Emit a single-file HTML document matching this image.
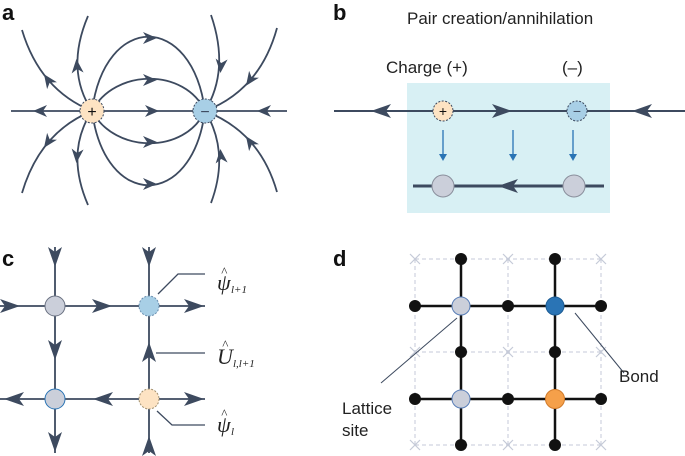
<!DOCTYPE html>
<html><head><meta charset="utf-8"><style>
html,body{margin:0;padding:0;background:#fff;}
svg{display:block;font-family:"Liberation Sans",sans-serif;}
</style></head><body>
<svg width="685" height="456" viewBox="0 0 685 456" xmlns="http://www.w3.org/2000/svg">
<defs>
<path id="ah" d="M10,0 L-10,-7 L-5,0 L-10,7 Z" fill="#3d4a5f"/>
<path id="as" d="M7,0 L-7,-6 L-3,0 L-7,6 Z" fill="#3d4a5f"/>
</defs>
<!-- Panel a -->
<text x="2" y="20" font-size="22" font-weight="bold" fill="#111">a</text>
<g fill="none" stroke="#3d4a5f" stroke-width="1.8">
<line x1="11" y1="111" x2="287" y2="111"/>
<path d="M92,111 C105,12 192,12 205,111"/>
<path d="M92,111 C115,68 185,68 205,111"/>
<path d="M92,111 C115,154 185,154 205,111"/>
<path d="M92,111 C105,210 192,210 205,111"/>
<path d="M92,111 Q40,90 22,30"/>
<path d="M92,111 Q65,70 88,16"/>
<path d="M92,111 Q40,132 22,193"/>
<path d="M92,111 Q65,152 88,205"/>
<path d="M205,111 Q230,70 211,15"/>
<path d="M205,111 Q260,90 277,28"/>
<path d="M205,111 Q230,152 211,203"/>
<path d="M205,111 Q260,132 277,192"/>
</g>
<use href="#as" transform="translate(40,111) rotate(180)"/>
<use href="#as" transform="translate(152,111)"/>
<use href="#as" transform="translate(264,111) rotate(180)"/>
<use href="#as" transform="translate(150,38)"/>
<use href="#as" transform="translate(150,80)"/>
<use href="#as" transform="translate(150,142)"/>
<use href="#as" transform="translate(150,184)"/>
<use href="#as" transform="translate(48,80) rotate(-125)"/>
<use href="#as" transform="translate(77,66) rotate(-95)"/>
<use href="#as" transform="translate(48,142) rotate(125)"/>
<use href="#as" transform="translate(77,156) rotate(95)"/>
<use href="#as" transform="translate(221,66) rotate(95)"/>
<use href="#as" transform="translate(250,80) rotate(125)"/>
<use href="#as" transform="translate(221,156) rotate(-95)"/>
<use href="#as" transform="translate(250,142) rotate(-125)"/>
<circle cx="92" cy="111" r="12" fill="#fde3c3" stroke="#3d4a5f" stroke-width="1" stroke-dasharray="2,1.5"/>
<circle cx="205" cy="111" r="12" fill="#a8cfe6" stroke="#3d4a5f" stroke-width="1" stroke-dasharray="2,1.5"/>
<text x="92" y="117" font-size="16" text-anchor="middle" fill="#111">+</text>
<text x="205" y="117" font-size="16" text-anchor="middle" fill="#3d4a5f">−</text>

<!-- Panel b -->
<text x="333" y="20" font-size="22" font-weight="bold" fill="#111">b</text>
<text x="407" y="24" font-size="17" fill="#222">Pair creation/annihilation</text>
<text x="386" y="73" font-size="17" fill="#222">Charge (+)</text>
<text x="562" y="73" font-size="17" fill="#222">(–)</text>
<rect x="407" y="83" width="203" height="130" fill="#d8f0f4"/>
<line x1="334" y1="111" x2="685" y2="111" stroke="#3d4a5f" stroke-width="2"/>
<use href="#ah" transform="translate(381,111) rotate(180)"/>
<use href="#ah" transform="translate(502,111)"/>
<use href="#ah" transform="translate(642,111) rotate(180)"/>
<circle cx="443" cy="111" r="10" fill="#fde3c3" stroke="#3d4a5f" stroke-width="1" stroke-dasharray="2,1.5"/>
<circle cx="577" cy="111" r="10" fill="#a8cfe6" stroke="#3d4a5f" stroke-width="1" stroke-dasharray="2,1.5"/>
<text x="443" y="116" font-size="14" text-anchor="middle" fill="#111">+</text>
<text x="577" y="116" font-size="14" text-anchor="middle" fill="#3d4a5f">−</text>
<g stroke="#2a74b5" stroke-width="1.3">
<line x1="443" y1="130" x2="443" y2="156"/><line x1="513" y1="130" x2="513" y2="156"/><line x1="573" y1="130" x2="573" y2="156"/>
</g>
<g fill="#2a74b5">
<path d="M439,154 L447,154 L443,161 Z"/><path d="M509,154 L517,154 L513,161 Z"/><path d="M569,154 L577,154 L573,161 Z"/>
</g>
<line x1="413" y1="186" x2="604" y2="186" stroke="#3d4a5f" stroke-width="3"/>
<use href="#ah" transform="translate(508,186) rotate(180)"/>
<circle cx="443" cy="186" r="11" fill="#cbcfda" stroke="#8a8f9c" stroke-width="1"/>
<circle cx="574" cy="186" r="11" fill="#cbcfda" stroke="#8a8f9c" stroke-width="1"/>

<!-- Panel c -->
<text x="2" y="266" font-size="22" font-weight="bold" fill="#111">c</text>
<g stroke="#3d4a5f" stroke-width="1.8" fill="none">
<line x1="0" y1="306" x2="205" y2="306"/>
<line x1="0" y1="399" x2="205" y2="399"/>
<line x1="55" y1="247" x2="55" y2="453"/>
<line x1="149" y1="247" x2="149" y2="453"/>
</g>
<use href="#ah" transform="translate(10,306)"/>
<use href="#ah" transform="translate(102,306)"/>
<use href="#ah" transform="translate(194,306)"/>
<use href="#ah" transform="translate(14,399) rotate(180)"/>
<use href="#ah" transform="translate(103,399) rotate(180)"/>
<use href="#ah" transform="translate(194,399)"/>
<use href="#ah" transform="translate(55,257) rotate(90)"/>
<use href="#ah" transform="translate(55,350) rotate(90)"/>
<use href="#ah" transform="translate(55,442) rotate(90)"/>
<use href="#ah" transform="translate(149,257) rotate(90)"/>
<use href="#ah" transform="translate(149,352) rotate(-90)"/>
<use href="#ah" transform="translate(149,446) rotate(-90)"/>
<circle cx="55" cy="306" r="10" fill="#cbcfda" stroke="#6b7282" stroke-width="1"/>
<circle cx="149" cy="306" r="10" fill="#a8cfe6" stroke="#6b8fb0" stroke-width="1" stroke-dasharray="2,1.5"/>
<circle cx="55" cy="399" r="10" fill="#cbcfda" stroke="#2a74b5" stroke-width="1"/>
<circle cx="149" cy="399" r="10" fill="#fde3c3" stroke="#a09070" stroke-width="1" stroke-dasharray="2,1.5"/>
<g stroke="#3d4a5f" stroke-width="1.3" fill="none">
<polyline points="158,294 178,274 205,274"/>
<line x1="156" y1="353" x2="205" y2="353"/>
<polyline points="157,411 172,425 205,425"/>
</g>
<g font-family="Liberation Serif,serif" font-style="italic" fill="#222">
<text x="217" y="290" font-size="22">ψ</text><text x="221" y="276" font-size="13">^</text><text x="231" y="293" font-size="11">l+1</text>
<text x="217" y="364" font-size="22">U</text><text x="222" y="349" font-size="13">^</text><text x="233" y="367" font-size="11">l,l+1</text>
<text x="217" y="432" font-size="22">ψ</text><text x="221" y="418" font-size="13">^</text><text x="231" y="435" font-size="11">l</text>
</g>

<!-- Panel d -->
<text x="333" y="266" font-size="22" font-weight="bold" fill="#111">d</text>
<g stroke="#c5cad8" stroke-width="1" stroke-dasharray="4,3" fill="none">
<line x1="415" y1="259" x2="601" y2="259"/><line x1="415" y1="352" x2="601" y2="352"/><line x1="415" y1="445" x2="601" y2="445"/>
<line x1="415" y1="259" x2="415" y2="445"/><line x1="508" y1="259" x2="508" y2="445"/><line x1="601" y1="259" x2="601" y2="445"/>
</g>
<g stroke="#c5cad8" stroke-width="1.2">
<path d="M410,254 l10,10 M420,254 l-10,10 M503,254 l10,10 M513,254 l-10,10 M596,254 l10,10 M606,254 l-10,10"/>
<path d="M410,347 l10,10 M420,347 l-10,10 M503,347 l10,10 M513,347 l-10,10 M596,347 l10,10 M606,347 l-10,10"/>
<path d="M410,440 l10,10 M420,440 l-10,10 M503,440 l10,10 M513,440 l-10,10 M596,440 l10,10 M606,440 l-10,10"/>
</g>
<g stroke="#111" stroke-width="2.5">
<line x1="415" y1="306" x2="601" y2="306"/><line x1="415" y1="399" x2="601" y2="399"/>
<line x1="461" y1="259" x2="461" y2="445"/><line x1="555" y1="259" x2="555" y2="445"/>
</g>
<g fill="#111">
<circle cx="461" cy="259" r="6"/><circle cx="555" cy="259" r="6"/>
<circle cx="415" cy="306" r="6"/><circle cx="508" cy="306" r="6"/><circle cx="601" cy="306" r="6"/>
<circle cx="461" cy="352" r="6"/><circle cx="555" cy="352" r="6"/>
<circle cx="415" cy="399" r="6"/><circle cx="508" cy="399" r="6"/><circle cx="601" cy="399" r="6"/>
<circle cx="461" cy="445" r="6"/><circle cx="555" cy="445" r="6"/>
</g>
<circle cx="461" cy="306" r="9" fill="#cbcfda" stroke="#5a7fb8" stroke-width="1"/>
<circle cx="555" cy="306" r="9" fill="#2a74b5" stroke="#1f5e95" stroke-width="1"/>
<circle cx="461" cy="399" r="9" fill="#cbcfda" stroke="#5a7fb8" stroke-width="1"/>
<circle cx="555" cy="399" r="9.5" fill="#f5a04a" stroke="#d07a2a" stroke-width="1"/>
<g stroke="#3d4a5f" stroke-width="1">
<line x1="575" y1="313" x2="624" y2="373"/>
<line x1="457" y1="318" x2="381" y2="383"/>
</g>
<text x="619" y="382" font-size="17" fill="#222">Bond</text>
<text x="342" y="414" font-size="17" fill="#222">Lattice</text>
<text x="342" y="436" font-size="17" fill="#222">site</text>
</svg>
</body></html>
